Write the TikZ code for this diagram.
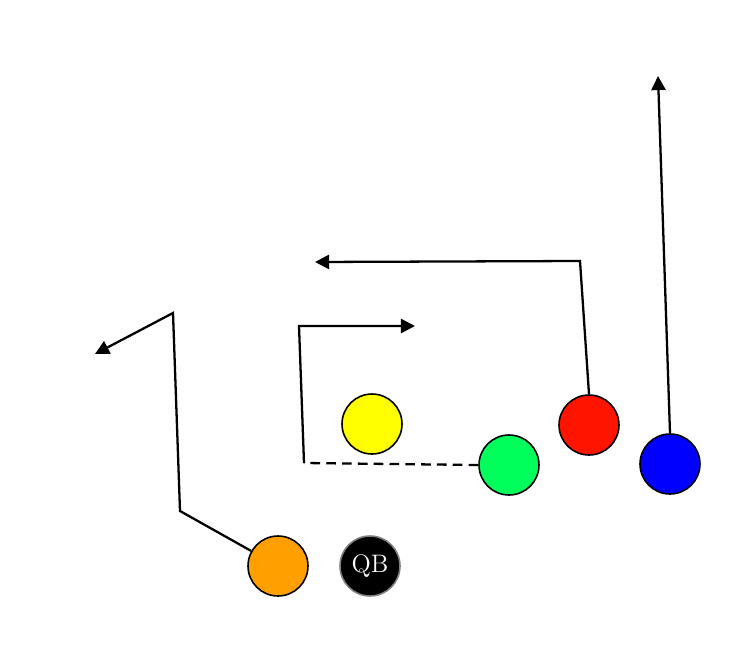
\documentclass[tikz,border=0pt]{standalone}
\usetikzlibrary{arrows.meta}

\begin{document}
\begin{tikzpicture}[x=0.02cm, y=-0.02cm,
	player/.style={circle, draw, line width=0.9pt, minimum size=1.2cm, inner sep=0pt},
	route/.style={line width=1.3pt, -{Triangle[length=8pt, width=8pt]}}]
			\useasboundingbox (0,0) rectangle (750,655);
			%Players
			\node[player, fill={rgb,255:red,255;green,160;blue,0}] (orange) at (278,566) {};
			\node[player, fill=black, draw=gray, text=white] (qb) at (370,566) {\Large QB};
			\node[player, fill={rgb,255:red,255;green,255;blue,0}] (yellow) at (372,424) {};
			\node[player, fill={rgb,255:red,0;green,255;blue,90}] (green) at (509,465) {};
			\node[player, fill={rgb,255:red,255;green,20;blue,0}] (red) at (589,425) {};
			\node[player, fill={rgb,255:red,0;green,0;blue,255}] (blue) at (670,464) {};
			%Route corners
			\coordinate (o1) at (180,511);
			\coordinate (o2) at (173,313);
			\coordinate (o3) at (95,354);
			\coordinate (g1) at (304,463);
			\coordinate (g2) at (299,326);
			\coordinate (g3) at (415,326);
			\coordinate (r1) at (580,261);
			\coordinate (r2) at (315,262);
			\coordinate (b1) at (658,76);
			%Routes
			\draw[route] (orange) -- (o1) -- (o2) -- (o3);
			\draw[line width=1.3pt, dash pattern=on 5.5pt off 3.5pt] (green.west) -- (g1);
			\draw[route] (g1) -- (g2) -- (g3);
			\draw[route] (red.north) -- (r1) -- (r2);
			\draw[route] (blue.north) -- (b1);
		\end{tikzpicture}
\end{document}
